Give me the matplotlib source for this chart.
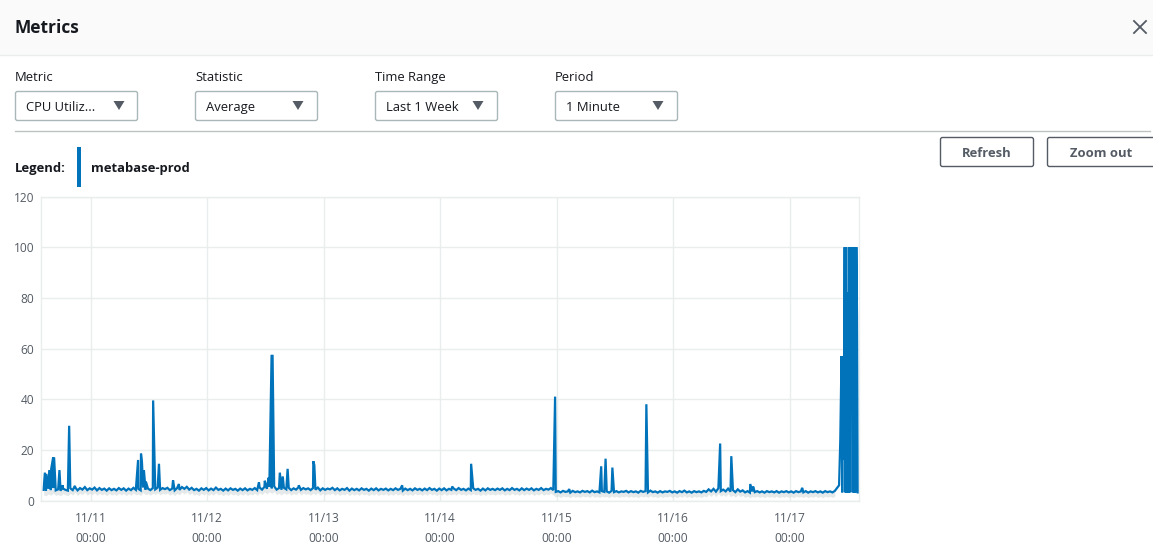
import numpy as np
import pandas as pd
import matplotlib
matplotlib.use("Agg")
import matplotlib.pyplot as plt
import matplotlib.dates as mdates
from matplotlib.patches import FancyBboxPatch, Rectangle, Polygon

plt.rcParams['font.family'] = ['Open Sans', 'DejaVu Sans']

# CPU utilization
start = pd.Timestamp("2019-11-10 14:20")
base_values = [
    4.2, 3.9, 4.6, 4.1, 4.9, 4.0, 4.4, 3.8, 4.7, 4.2, 3.9, 4.8, 4.1, 5.2, 4.0, 4.9, 4.3, 5.3, 4.1, 4.8,
    4.3, 5.1, 4.0, 4.9, 4.2, 4.7, 3.9, 4.8, 4.1, 4.6, 4.0, 4.9, 4.2, 4.8, 3.9, 4.7, 4.1, 5.0, 4.2, 4.6,
    4.0, 5.2, 4.3, 4.7, 4.1, 4.9, 4.4, 5.1, 4.2, 4.9, 4.5, 5.0, 4.1, 4.7, 4.0, 4.9, 4.2, 5.3, 4.6, 5.4,
    4.3, 5.0, 4.1, 4.6, 3.9, 4.8, 4.2, 4.9, 4.0, 4.7, 4.1, 5.1, 4.2, 4.6, 3.9, 4.7, 4.0, 4.8, 4.2, 4.6,
    3.9, 4.7, 4.1, 4.8, 4.0, 4.6, 4.2, 4.9, 4.1, 5.1, 4.3, 5.4, 4.6, 5.5, 4.8, 5.6, 4.3, 4.9, 4.2, 5.0,
    4.4, 5.0, 4.1, 4.8, 4.3, 5.2, 4.2, 4.9, 4.4, 4.8, 4.1, 4.9, 4.3, 5.1, 4.0, 4.8, 4.2, 4.7, 4.4, 5.0,
    4.1, 4.8, 4.0, 4.6, 4.2, 4.9, 3.9, 4.7, 4.1, 4.6, 4.0, 4.8, 4.2, 4.6, 3.9, 4.7, 4.1, 4.8, 4.0, 4.6,
    4.2, 4.7, 4.0, 4.6, 4.1, 4.8, 4.2, 4.6, 3.9, 4.7, 4.1, 4.6, 4.0, 4.8, 4.2, 4.6, 4.0, 4.7, 4.1, 4.9,
    4.2, 4.6, 3.9, 4.7, 4.1, 4.8, 4.0, 4.6, 4.2, 4.7, 4.1, 4.9, 4.2, 4.6, 4.0, 4.7, 4.1, 4.8, 4.2, 4.6,
    3.9, 4.7, 4.0, 4.8, 4.2, 4.6, 4.1, 4.7, 4.2, 4.8, 4.0, 4.6, 4.1, 4.9, 4.2, 4.6, 4.0, 4.8, 4.1, 4.7,
    4.2, 4.8, 4.0, 4.6, 4.2, 4.9, 4.1, 4.6, 4.3, 4.9, 4.1,
    3.4, 3.7, 3.2, 3.8, 3.4, 3.6, 3.1, 3.8, 3.3, 3.6, 3.2, 3.8, 3.4, 3.7, 3.2, 3.9, 3.3, 3.6, 3.2, 3.7,
    3.4, 3.6, 3.1, 3.8, 3.3, 3.7, 3.2, 3.6, 3.4, 3.8, 3.2, 3.7, 3.3, 3.6, 3.1, 3.8, 3.4, 3.7, 3.2, 3.9,
    3.3, 3.6, 3.1, 3.7, 3.2, 3.6, 3.4, 3.8, 3.2, 3.6, 3.1, 3.7, 3.3, 3.9, 3.2, 3.6, 3.1, 3.7, 3.3, 3.6,
    3.2, 3.8, 3.4, 4.4, 3.6, 4.6, 3.5, 4.8, 3.7, 4.3, 3.6, 4.7, 3.5, 4.1, 3.3, 4.4, 3.5, 4.0, 3.2, 3.7,
    3.1, 3.6, 3.3, 3.7, 3.2, 3.6, 3.1, 3.7, 3.3, 3.6, 3.2, 3.7, 3.1, 3.6, 3.3, 3.7, 3.2, 3.6, 3.1, 3.7,
    3.3, 3.6, 3.2, 3.7, 3.1, 3.6, 3.3, 3.7, 3.2, 3.6, 3.1, 3.7, 3.3, 3.6, 3.2, 3.8,
]
spike_hours = [
    -9.4, -9.1, -8.5, -8.1, -7.7, -7.5, -6.4, -5.7, -4.4, -3.2,
    9.8, 10.4, 10.6, 11.0, 11.4, 12.9, 14.1, 17.0, 18.2,
    34.7, 35.9, 36.7, 37.3, 37.5, 39.0, 39.6, 40.6, 42.9, 45.9, 46.1,
    64.2, 74.5, 78.4, 95.7, 98.6,
    105.2, 106.1, 107.5, 114.5, 129.7, 132.0, 135.9, 136.5, 146.6,
]
spike_values = [
    11, 10.5, 12, 12.5, 17, 17, 12, 6, 29.5, 5.8,
    16, 18.5, 15, 12, 7.5, 39.5, 14.5, 8, 6.5,
    7.2, 7.8, 9, 57.5, 57.5, 11, 9.5, 12.5, 6, 15.5, 14,
    6, 5.5, 14.5, 41, 4.5,
    13.5, 16.5, 13, 38, 22.5, 17.5, 6.5, 5.5, 5,
]
burst_hours = [
    154.2, 154.45, 154.7, 154.85, 155.0, 155.15, 155.35, 155.5, 155.65, 155.8, 155.95, 156.1,
    156.25, 156.4, 156.55, 156.7, 156.85, 157.0, 157.15, 157.3, 157.45, 157.6, 157.75, 157.9, 158.05,
]
burst_values = [
    6, 24, 57, 3.2, 57, 16, 100, 3.2, 100, 3.2, 82, 3.2,
    100, 3.2, 100, 48, 100, 3.2, 100, 3.2, 100, 3.2, 100, 72, 3.2,
]
y_ticks = [0, 20, 40, 60, 80, 100, 120]
day_ticks = ["2019-11-11", "2019-11-12", "2019-11-13", "2019-11-14", "2019-11-15", "2019-11-16", "2019-11-17"]
dropdown_labels = ["Metric", "Statistic", "Time Range", "Period"]
dropdown_values = ["CPU Utiliz...", "Average", "Last 1 Week", "1 Minute"]

BLUE = "#0073bb"
GRID = "#eaeded"
TEXT = "#16191f"
MUTED = "#545b64"

W, H = 1153, 560
fig = plt.figure(figsize=(W / 100, H / 100), dpi=100, facecolor="white")


def hours_to_time(hours):
    return start.normalize() + pd.Timedelta(days=1) + pd.to_timedelta(np.asarray(hours), unit="h")


# ---- page furniture, in pixel coordinates ----
ui = fig.add_axes([0, 0, 1, 1])
ui.set_xlim(0, W)
ui.set_ylim(H, 0)
ui.axis("off")

ui.add_patch(Rectangle((0, 0), W, 55, fc="#fafafa", ec="none"))
ui.plot([0, W], [55, 55], color=GRID, lw=1)
ui.text(15, 33, "Metrics", fontsize=12.5, fontweight="bold", color=TEXT, va="baseline")
ui.plot([1134, 1146], [21, 33], color=MUTED, lw=1.3)
ui.plot([1134, 1146], [33, 21], color=MUTED, lw=1.3)

for i, (label, value) in enumerate(zip(dropdown_labels, dropdown_values)):
    x0 = 15 + [0, 180, 360, 540][i]
    ui.text(x0, 81, label, fontsize=9.4, color=TEXT, va="baseline")
    ui.add_patch(FancyBboxPatch((x0 + 0.5, 91.5), 122, 29, boxstyle="round,pad=0,rounding_size=2",
                                fc="white", ec="#aab7b8", lw=1))
    ui.text(x0 + 11, 111, value, fontsize=9.4, color=TEXT, va="baseline")
    tri_x = x0 + [104, 103, 103, 103][i]
    ui.add_patch(Polygon([(tri_x - 5.5, 101), (tri_x + 5.5, 101), (tri_x, 110)], fc=MUTED, ec="none"))

ui.plot([15, 1150], [131, 131], color="#bdc3c3", lw=1)
ui.text(15, 172, "Legend:", fontsize=9.4, fontweight="bold", color=TEXT, va="baseline")
ui.add_patch(Rectangle((77, 147), 4, 40, fc=BLUE, ec="none"))
ui.text(91, 172, "metabase-prod", fontsize=9.4, fontweight="bold", color=TEXT, va="baseline")

ui.add_patch(FancyBboxPatch((940.5, 137.5), 93, 29, boxstyle="round,pad=0,rounding_size=2",
                            fc="white", ec=MUTED, lw=1))
ui.text(987, 157, "Refresh", fontsize=9.4, fontweight="bold", color=MUTED, va="baseline", ha="center")
ui.add_patch(FancyBboxPatch((1047.5, 137.5), 120, 29, boxstyle="round,pad=0,rounding_size=2",
                            fc="white", ec=MUTED, lw=1, clip_on=True))
ui.text(1101, 157, "Zoom out", fontsize=9.4, fontweight="bold", color=MUTED, va="baseline", ha="center")

# ---- the chart ----
ax = fig.add_axes([41 / W, 1 - 500.5 / H, (858.5 - 41) / W, (500.5 - 196.5) / H])
ax.patch.set_alpha(0)

base_time = pd.date_range(start, periods=len(base_values), freq="30min")
base_arr = np.array(base_values)
spike_time = hours_to_time(spike_hours)
burst_time = hours_to_time(burst_hours)

all_time = np.concatenate([base_time.values, spike_time.values, burst_time.values])
all_values = np.concatenate([base_arr, spike_values, burst_values])
order = np.argsort(all_time)

ax.fill_between(base_time, base_arr - 2.0, base_arr, color="#d5dbdb", alpha=0.6, lw=0)
ax.plot(all_time[order], all_values[order], color=BLUE, lw=1.6, solid_joinstyle="miter")

ax.set_xlim(pd.Timestamp("2019-11-10 13:48"), pd.Timestamp("2019-11-17 14:12"))
ax.set_ylim(0, 120)
ax.set_yticks(y_ticks)
ax.set_xticks(pd.to_datetime(day_ticks))
ax.xaxis.set_major_formatter(mdates.DateFormatter("%m/%d\n%H:%M"))
ax.grid(True, color=GRID, lw=1)
ax.set_axisbelow(True)
ax.tick_params(length=0, labelsize=8.6, labelcolor=MUTED)
ax.tick_params(axis="x", pad=8)
ax.tick_params(axis="y", pad=5)
for label in ax.get_xticklabels():
    label.set_linespacing(1.75)
for spine in ax.spines.values():
    spine.set_color(GRID)
    spine.set_linewidth(1)

fig.savefig("out.png", dpi=100)
